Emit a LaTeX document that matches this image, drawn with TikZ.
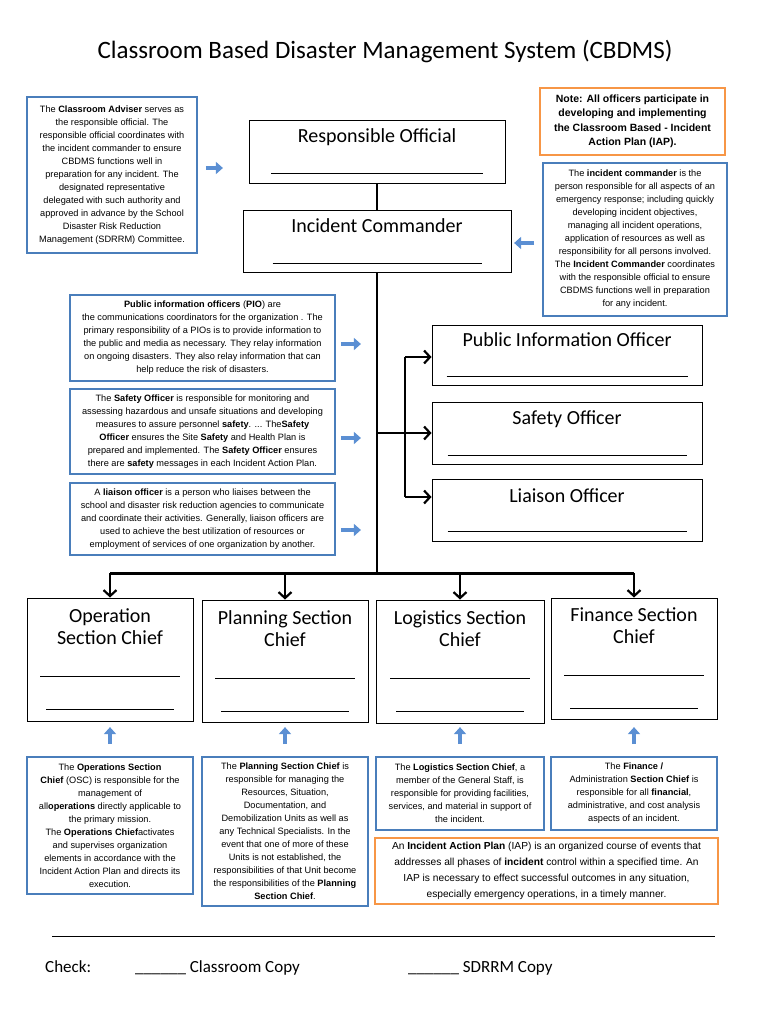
\documentclass[tikz,border=0pt]{standalone}
\usepackage{fontspec}
\setmainfont{Carlito}
\newfontfamily\notefont{Liberation Sans}
\usetikzlibrary{arrows.meta}
\definecolor{boxblue}{HTML}{4A7EBB}
\definecolor{hintblue}{HTML}{5B8FD3}
\definecolor{noteorange}{HTML}{F79646}
\tikzset{
  rolebox/.style={draw=black, line width=0.9pt, inner sep=0pt, align=center, font=\fontsize{20}{22}\selectfont},
  infobox/.style={draw=boxblue, line width=1.8pt, inner sep=0pt, align=center, font=\notefont\fontsize{9.2}{13}\selectfont},
  planbox/.style={draw=noteorange, line width=1.8pt, inner sep=0pt, align=center},
  hint/.style={hintblue, line width=4pt, -{Triangle[length=7pt,width=12pt]}},
  trunk/.style={line width=2.2pt},
  link/.style={line width=2.2pt, -{Straight Barb[length=6pt,width=13pt]}},
}
\newcommand\blank[1]{\rule{#1pt}{0.6pt}}
\begin{document}
\begin{tikzpicture}[x=1pt,y=-1pt]
  \useasboundingbox (0,0) rectangle (768,1024);
  \node (title) at (385,52) {\fontsize{25}{30}\selectfont Classroom Based Disaster Management System (CBDMS)};

  % command staff
  \node[rolebox, minimum width=256pt, minimum height=63pt] (ro) at (377,151.5) {Responsible Official\\[9pt]\blank{212}};
  \node[rolebox, minimum width=268pt, minimum height=62pt] (ic) at (377,241) {Incident Commander\\[9pt]\blank{209}};
  \node[rolebox, minimum width=270pt, minimum height=60pt] (pio) at (567,355) {Public Information Officer\\[8pt]\blank{241}};
  \node[rolebox, minimum width=270pt, minimum height=62pt] (saf) at (567,433) {Safety Officer\\[9pt]\blank{239}};
  \node[rolebox, minimum width=270pt, minimum height=62pt] (lia) at (567,510) {Liaison Officer\\[7pt]\blank{239}};

  % general staff
  \node[rolebox, minimum width=166pt, minimum height=123pt] (ops) at (110,659.5) {Operation\\Section Chief\\[10pt]\blank{140}\\[11pt]\blank{128}};
  \node[rolebox, minimum width=166pt, minimum height=122pt] (pla) at (285,661) {Planning Section\\Chief\\[10pt]\blank{140}\\[11pt]\blank{128}};
  \node[rolebox, minimum width=168pt, minimum height=123pt] (log) at (460,661.5) {Logistics Section\\Chief\\[10pt]\blank{140}\\[11pt]\blank{128}};
  \node[rolebox, minimum width=166pt, minimum height=121pt] (fin) at (634,658.5) {Finance Section\\Chief\\[10pt]\blank{140}\\[11pt]\blank{128}};

  % notes
  \node[infobox, minimum width=170pt, minimum height=156pt] (adv) at (112,175) {The \textbf{Classroom Adviser} serves as\\the responsible official. The\\responsible official coordinates with\\the incident commander to ensure\\CBDMS functions well in\\preparation for any incident. The\\designated representative\\delegated with such authority and\\approved in advance by the School\\Disaster Risk Reduction\\Management (SDRRM) Committee.};
  \node[planbox, minimum width=185pt, minimum height=67pt, font=\notefont\bfseries\fontsize{10.5}{14.5}\selectfont] (note) at (632.5,121.5) {Note: All officers participate in\\developing and implementing\\the Classroom Based - Incident\\Action Plan (IAP).};
  \node[infobox, minimum width=184pt, minimum height=153pt] (icd) at (635,239.5) {The \textbf{incident commander} is the\\person responsible for all aspects of an\\emergency response; including quickly\\developing incident objectives,\\managing all incident operations,\\application of resources as well as\\responsibility for all persons involved.\\The \textbf{Incident Commander} coordinates\\with the responsible official to ensure\\CBDMS functions well in preparation\\for any incident.};
  \node[infobox, minimum width=265pt, minimum height=86pt] (piod) at (202.5,338) {\textbf{Public information officers} (\textbf{PIO}) are\\the communications coordinators for the organization . The\\primary responsibility of a PIOs is to provide information to\\the public and media as necessary. They relay information\\on ongoing disasters. They also relay information that can\\help reduce the risk of disasters.};
  \node[infobox, minimum width=265pt, minimum height=85pt] (safd) at (202.5,431.5) {The \textbf{Safety Officer} is responsible for monitoring and\\assessing hazardous and unsafe situations and developing\\measures to assure personnel \textbf{safety}. ... The\textbf{Safety}\\\textbf{Officer} ensures the Site \textbf{Safety} and Health Plan is\\prepared and implemented. The \textbf{Safety Officer} ensures\\there are \textbf{safety} messages in each Incident Action Plan.};
  \node[infobox, minimum width=265pt, minimum height=72pt] (liad) at (202.5,519) {A \textbf{liaison officer} is a person who liaises between the\\school and disaster risk reduction agencies to communicate\\and coordinate their activities. Generally, liaison officers are\\used to achieve the best utilization of resources or\\employment of services of one organization by another.};
  \node[infobox, minimum width=166pt, minimum height=137pt] (opsd) at (110,825.5) {The \textbf{Operations Section}\\\textbf{Chief} (OSC) is responsible for the\\management of\\all\textbf{operations} directly applicable to\\the primary mission.\\The \textbf{Operations Chief}activates\\and supervises organization\\elements in accordance with the\\Incident Action Plan and directs its\\execution.};
  \node[infobox, minimum width=166pt, minimum height=149pt] (plad) at (285,831.5) {The \textbf{Planning Section Chief} is\\responsible for managing the\\Resources, Situation,\\Documentation, and\\Demobilization Units as well as\\any Technical Specialists. In the\\event that one of more of these\\Units is not established, the\\responsibilities of that Unit become\\the responsibilities of the \textbf{Planning}\\\textbf{Section Chief}.};
  \node[infobox, minimum width=168pt, minimum height=73pt] (logd) at (460,793.5) {The \textbf{Logistics Section Chief}, a\\member of the General Staff, is\\responsible for providing facilities,\\services, and material in support of\\the incident.};
  \node[infobox, minimum width=166pt, minimum height=73pt] (find) at (634,793.5) {The \textbf{Finance /}\\Administration \textbf{Section Chief} is\\responsible for all \textbf{financial},\\administrative, and cost analysis\\aspects of an incident.};
  \node[planbox, minimum width=343pt, minimum height=66pt, font=\notefont\fontsize{10.2}{16}\selectfont] (iap) at (546.5,871) {An \textbf{Incident Action Plan} (IAP) is an organized course of events that\\addresses all phases of \textbf{incident} control within a specified time. An\\IAP is necessary to effect successful outcomes in any situation,\\especially emergency operations, in a timely manner.};

  % chain of command
  \path (ic.south) ++(0,301) coordinate (hub);
  \coordinate (pioend) at (405,357);
  \coordinate (liaend) at (405,497);
  \draw[trunk] (ro.south) -- (ic.north);
  \draw[trunk] (ic.south) -- (hub);
  \draw[trunk] (hub -| ops.north) -- (hub -| fin.north);
  \foreach \n in {ops,pla,log,fin}
    \draw[link] (hub -| \n.north) -- (\n.north);
  \draw[link] (ic.south |- saf.west) -- (saf.west);
  \draw[trunk] (pioend) -- (liaend);
  \draw[link] (pioend) -- (pioend -| pio.west);
  \draw[link] (liaend) -- (liaend -| lia.west);

  % pointers
  \draw[hint] ([xshift=8pt,yshift=7pt]adv.east) -- ++(17,0);
  \draw[hint] ([xshift=-8pt,yshift=-3.5pt]icd.west) -- ++(-20,0);
  \draw[hint] ([xshift=5pt,yshift=-6pt]piod.east) -- ++(20,0);
  \draw[hint] ([xshift=5pt,yshift=-6.5pt]safd.east) -- ++(20,0);
  \draw[hint] ([xshift=5pt,yshift=-11pt]liad.east) -- ++(20,0);
  \foreach \n in {opsd,plad,logd,find}
    \draw[hint] ([yshift=12pt]\n.north) -- ([yshift=29pt]\n.north);

  % sign-off
  \node[anchor=base west, inner sep=0pt] (sig) at (52,937) {\rule{663pt}{0.8pt}};
  \node[anchor=base west, inner sep=0pt, font=\fontsize{17}{20}\selectfont] (check) at (45,972) {Check:};
  \node[anchor=base west, inner sep=0pt, font=\fontsize{17}{20}\selectfont] (copya) at (135,972) {\_\_\_\_\_\_ Classroom Copy};
  \node[anchor=base west, inner sep=0pt, font=\fontsize{17}{20}\selectfont] (copyb) at (408,972) {\_\_\_\_\_\_ SDRRM Copy};
\end{tikzpicture}
\end{document}
